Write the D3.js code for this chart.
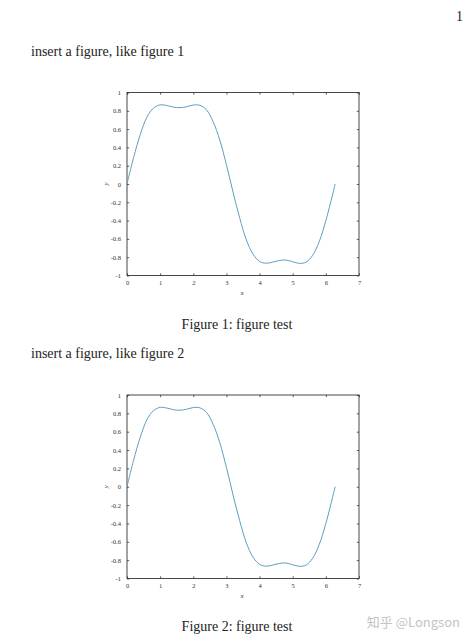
<!DOCTYPE html>
<html><head><meta charset="utf-8">
<script src="https://cdn.jsdelivr.net/npm/d3@7"></script>
<style>html,body{margin:0;padding:0;background:#fff;}svg{display:block;}</style>
</head><body>
<svg id="page" width="474" height="642"></svg>
<script>
// Curve (x, y)
const xValues = [0,0.2,0.4,0.6,0.8,1.0,1.2,1.4,1.6,1.8,2.0,2.2,2.4,2.6,2.8,3.0,3.2,3.4,3.6,3.8,4.0,4.2,4.4,4.6,4.8,5.0,5.2,5.4,5.6,5.8,6.0,6.2,6.28];
const yValues = [0,0.29,0.54,0.73,0.83,0.865,0.858,0.84,0.834,0.845,0.863,0.86,0.81,0.68,0.48,0.21,-0.09,-0.37,-0.61,-0.765,-0.846,-0.866,-0.853,-0.836,-0.831,-0.85,-0.867,-0.855,-0.78,-0.63,-0.40,-0.12,0];
const xTicks = [0,1,2,3,4,5,6,7];
const yTicks = [-1,-0.8,-0.6,-0.4,-0.2,0,0.2,0.4,0.6,0.8,1];
const xTickLabels = ["0","1","2","3","4","5","6","7"];
const yTickLabels = ["-1","-0.8","-0.6","-0.4","-0.2","0","0.2","0.4","0.6","0.8","1"];
const introTexts = ["insert a figure, like figure 1","insert a figure, like figure 2"];
const captions = ["Figure 1: figure test","Figure 2: figure test"];

const svg = d3.select("#page");
const serif = "'Liberation Serif','Times New Roman',serif";

svg.append("text").attr("x",463).attr("y",21).attr("text-anchor","end")
  .attr("font-family",serif).attr("font-size",14).attr("fill","#222").text("1");

const data = xValues.map((x,i)=>({x, y:yValues[i]}));
const layouts = [
  {intro:56, top:92.5, bottom:275.5, cap:329},
  {intro:358, top:395, bottom:578.5, cap:631}
];

layouts.forEach((L, k) => {
  svg.append("text").attr("x",31).attr("y",L.intro)
    .attr("font-family",serif).attr("font-size",14).attr("fill","#222").text(introTexts[k]);
  svg.append("text").attr("x",237).attr("y",L.cap).attr("text-anchor","middle")
    .attr("font-family",serif).attr("font-size",14).attr("fill","#222").text(captions[k]);

  const x = d3.scaleLinear().domain([0,7]).range([127,359]);
  const y = d3.scaleLinear().domain([-1,1]).range([L.bottom,L.top]);
  const g = svg.append("g");
  const axisColor = "#333";
  const tl = 2.2;
  const styleAxis = sel => {
    sel.select(".domain").remove();
    sel.selectAll("line").attr("stroke",axisColor).attr("stroke-width",0.8);
    sel.selectAll("text").attr("font-family",serif).attr("font-size",6.5).attr("fill","#333");
  };
  g.append("g").attr("transform",`translate(0,${L.bottom})`)
    .call(d3.axisBottom(x).tickValues(xTicks).tickFormat((d,i)=>xTickLabels[i]).tickSizeInner(-tl).tickSizeOuter(0).tickPadding(5))
    .call(styleAxis);
  g.append("g").attr("transform",`translate(0,${L.top})`)
    .call(d3.axisTop(x).tickValues(xTicks).tickFormat("").tickSizeInner(-tl).tickSizeOuter(0))
    .call(styleAxis);
  g.append("g").attr("transform",`translate(127,0)`)
    .call(d3.axisLeft(y).tickValues(yTicks).tickFormat((d,i)=>yTickLabels[i]).tickSizeInner(-tl).tickSizeOuter(0).tickPadding(6))
    .call(styleAxis);
  g.append("g").attr("transform",`translate(359,0)`)
    .call(d3.axisRight(y).tickValues(yTicks).tickFormat("").tickSizeInner(-tl).tickSizeOuter(0))
    .call(styleAxis);
  g.append("rect").attr("x",127).attr("y",L.top).attr("width",232).attr("height",L.bottom-L.top)
    .attr("fill","none").attr("stroke",axisColor).attr("stroke-width",0.9);

  const line = d3.line().x(d=>x(d.x)).y(d=>y(d.y)).curve(d3.curveCatmullRom);
  g.append("path").datum(data).attr("d",line).attr("fill","none")
    .attr("stroke","#5f9dc2").attr("stroke-width",1);

  g.append("text").attr("x",242).attr("y",L.bottom+19).attr("text-anchor","middle")
    .attr("font-family",serif).attr("font-style","italic").attr("font-size",7).attr("fill","#333").text("x");
  g.append("text").attr("transform",`translate(108,${(L.top+L.bottom)/2}) rotate(-90)`).attr("text-anchor","middle")
    .attr("font-family",serif).attr("font-style","italic").attr("font-size",7).attr("fill","#333").text("y");
});

svg.append("text").attr("x",460).attr("y",627).attr("text-anchor","end")
  .attr("font-family","'Noto Sans CJK SC','Noto Sans',sans-serif").attr("font-size",13).attr("fill","#c4c4c4")
  .text("知乎 @Longson");
</script>
</body></html>
